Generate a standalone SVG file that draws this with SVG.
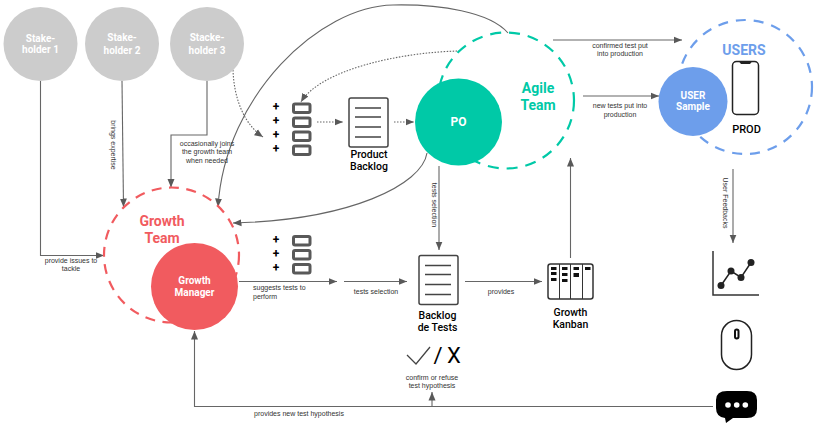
<svg xmlns="http://www.w3.org/2000/svg" width="824" height="428" viewBox="0 0 824 428">
<style>
text{font-family:Roboto,"Liberation Sans",sans-serif;text-anchor:middle}
.w{fill:#fff;font-weight:700;font-size:10px}
.l{fill:#333;font-size:7px;font-family:"Liberation Sans",Arial,sans-serif}
.n{fill:#000;font-weight:500;font-size:10.5px}
.t{font-weight:700;font-size:14px}
.c{fill:none;stroke:#666;stroke-width:1.1}
.d{fill:none;stroke:#666;stroke-width:1.1;stroke-dasharray:1.5 1.5}
.s{fill:#ccc}
.ic{fill:none;stroke:#595959;stroke-width:3}
.k{fill:#000;font-size:12px;font-weight:700}
</style>
<defs>
<marker id="a" markerUnits="userSpaceOnUse" markerWidth="9" markerHeight="8" refX="8.5" refY="4" orient="auto"><path d="M0,0.5L8.5,4L0,7.5z" fill="#595959"/></marker>
</defs>
<g id="connectors">
<path class="c" marker-end="url(#a)" d="M40.500,81V255.500H104"/>
<path class="c" marker-end="url(#a)" d="M122,81L123.500,207"/>
<path class="c" marker-end="url(#a)" d="M207,81V135H171V187.500"/>
<path class="d" marker-end="url(#a)" d="M233,70C234,100 245,125 263,137"/>
<path class="c" marker-end="url(#a)" d="M508,33C490,12 440,4 393,5C320,6 225,95 218,207"/>
<path class="c" marker-end="url(#a)" d="M427,153C422,185 350,220 233,223"/>
<path class="d" marker-end="url(#a)" d="M460,51C400,52 320,70 301,102"/>
<path class="d" marker-end="url(#a)" d="M317,122H343"/>
<path class="d" marker-end="url(#a)" d="M394,122H414"/>
<path class="c" marker-end="url(#a)" d="M439,166V250"/>
<path class="c" marker-end="url(#a)" d="M239,281.500H337"/>
<path class="c" marker-end="url(#a)" d="M344,281.500H407"/>
<path class="c" marker-end="url(#a)" d="M465,281.500H542"/>
<path class="c" marker-end="url(#a)" d="M570.500,258V158"/>
<path class="c" marker-end="url(#a)" d="M553,40H682"/>
<path class="c" marker-end="url(#a)" d="M583,96H659"/>
<path class="c" marker-end="url(#a)" d="M733,169V243"/>
<path class="c" marker-end="url(#a)" d="M713,406.500H194.500V331"/>
<path class="c" marker-end="url(#a)" d="M432,406.500V392"/>
</g>
<g id="labels">
<text class="l" transform="translate(113,145) rotate(90)" y="2.500">brings expertise</text>
<text class="l" transform="translate(434,205) rotate(90)" y="2.500">tests selection</text>
<text class="l" transform="translate(725,203) rotate(90)" y="2.500">User Feedbacks</text>
<text class="l" x="207" y="146">occasionally joins</text>
<text class="l" x="207" y="154">the growth team</text>
<text class="l" x="207" y="163">when needed</text>
<text class="l" x="71" y="263">provide issues to</text>
<text class="l" x="71" y="271">tackle</text>
<text class="l" x="253" y="290" style="text-anchor:start">suggests tests to</text>
<text class="l" x="253" y="299" style="text-anchor:start">perform</text>
<text class="l" x="376" y="294">tests selection</text>
<text class="l" x="501" y="294">provides</text>
<text class="l" x="620" y="48">confirmed test put</text>
<text class="l" x="620" y="56">into production</text>
<text class="l" x="620" y="108">new tests put into</text>
<text class="l" x="620" y="117">production</text>
<text class="l" x="432" y="380">confirm or refuse</text>
<text class="l" x="432" y="388">test hypothesis</text>
<text class="l" x="299" y="416">provides new test hypothesis</text>
</g>
<g id="stakeholder1"><circle class="s" cx="40.500" cy="44" r="37"/><text class="w" x="40.500" y="42">Stake-</text><text class="w" x="40.500" y="53">holder 1</text></g>
<g id="stakeholder2"><circle class="s" cx="122" cy="44" r="37"/><text class="w" x="122" y="41">Stake-</text><text class="w" x="122" y="54">holder 2</text></g>
<g id="stakeholder3"><circle class="s" cx="207" cy="44" r="37"/><text class="w" x="207" y="41">Stacke-</text><text class="w" x="207" y="54">holder 3</text></g>
<g id="growth-team">
<circle cx="171.500" cy="255" r="67.500" fill="none" stroke="#f15b5f" stroke-width="2.200" stroke-dasharray="10 7.500"/>
<text class="t" x="162" y="226" fill="#f15b5f">Growth</text><text class="t" x="162" y="243" fill="#f15b5f">Team</text>
</g>
<g id="growth-manager"><circle cx="194.500" cy="286.500" r="43.500" fill="#f15b5f"/><text class="w" x="194.500" y="284">Growth</text><text class="w" x="194.500" y="296">Manager</text></g>
<g id="agile-team">
<circle cx="506" cy="100.500" r="68" fill="none" stroke="#00c9a7" stroke-width="2.200" stroke-dasharray="11 8"/>
<text class="t" x="538" y="93" fill="#00c9a7">Agile</text><text class="t" x="538" y="110" fill="#00c9a7">Team</text>
</g>
<g id="po"><circle cx="458.500" cy="122" r="43.500" fill="#00c9a7"/><text x="458.500" y="126" fill="#fff" font-weight="700" font-size="12">PO</text></g>
<g id="users">
<circle cx="745" cy="87" r="67" fill="none" stroke="#6d9eeb" stroke-width="2.200" stroke-dasharray="10 8"/>
<text class="t" x="744" y="55" fill="#6d9eeb">USERS</text>
</g>
<g id="user-sample"><circle cx="693" cy="101.500" r="34.500" fill="#6d9eeb"/><text class="w" x="693" y="99">USER</text><text class="w" x="693" y="110">Sample</text></g>
<g id="prod">
<rect x="732.500" y="61.500" width="26" height="53" rx="4" fill="#fff" stroke="#222" stroke-width="1.500"/>
<path d="M739,61.500H752L750,64H741z" fill="#222"/>
<text class="n" x="746.500" y="133" style="font-size:11px">PROD</text>
</g>
<g id="product-list">
<text class="k" x="276" y="111">+</text><text class="k" x="276" y="125">+</text><text class="k" x="276" y="139">+</text><text class="k" x="276" y="153">+</text>
<rect class="ic" x="293.500" y="104" width="16.500" height="8.500" rx="1.500"/>
<rect class="ic" x="293.500" y="118" width="16.500" height="8.500" rx="1.500"/>
<rect class="ic" x="293.500" y="132" width="16.500" height="8.500" rx="1.500"/>
<rect class="ic" x="293.500" y="146" width="16.500" height="8.500" rx="1.500"/>
</g>
<g id="product-backlog">
<rect x="349" y="98" width="39" height="49" rx="2" fill="#fff" stroke="#444" stroke-width="1.500"/>
<path d="M355,108H381M355,117H381M355,127H381M355,137H381" stroke="#444" stroke-width="1.300"/>
<text class="n" x="369" y="158">Product</text><text class="n" x="369" y="170">Backlog</text>
</g>
<g id="tests-list">
<text class="k" x="276" y="244">+</text><text class="k" x="276" y="258">+</text><text class="k" x="276" y="272">+</text>
<rect class="ic" x="293.500" y="236.500" width="16.500" height="8.500" rx="1.500"/>
<rect class="ic" x="293.500" y="250.500" width="16.500" height="8.500" rx="1.500"/>
<rect class="ic" x="293.500" y="264.500" width="16.500" height="8.500" rx="1.500"/>
</g>
<g id="backlog-tests">
<rect x="419" y="255.500" width="39" height="49" rx="2" fill="#fff" stroke="#444" stroke-width="1.500"/>
<path d="M425,265.500H451M425,274.500H451M425,284.500H451M425,294.500H451" stroke="#444" stroke-width="1.300"/>
<text class="n" x="437.500" y="319">Backlog</text><text class="n" x="437.500" y="331">de Tests</text>
</g>
<g id="confirm">
<path d="M407,355L416,364L430,347" fill="none" stroke="#444" stroke-width="1.300"/>
<text x="438" y="363" fill="#000" font-size="22">/</text>
<text x="454" y="363" fill="#000" font-size="22">X</text>
</g>
<g id="growth-kanban">
<rect x="548" y="264" width="45" height="35" rx="2.500" fill="#fff" stroke="#333" stroke-width="1.500"/>
<path d="M559.500,264V299M570.500,264V299M582.500,264V299" stroke="#333" stroke-width="1"/>
<path d="M551,267h5.500v3h-5.500zM551,272h5.500v3h-5.500zM551,278h5.500v3h-5.500zM562,267h5.500v3h-5.500zM562,273h5.500v3h-5.500zM562,279h5.500v3h-5.500zM573.500,267h5.500v3h-5.500zM573.500,273h5.500v4h-5.500zM585,267h5.500v3h-5.500z" fill="#111"/>
<text class="n" x="570.500" y="316">Growth</text><text class="n" x="570.500" y="328">Kanban</text>
</g>
<g id="chart">
<path d="M713,251V295H759" fill="none" stroke="#333" stroke-width="1.500"/>
<path d="M721,285.500L731,271L741,277.500L751,262.500" fill="none" stroke="#222" stroke-width="1.500"/>
<circle cx="721" cy="285.500" r="3.500" fill="#222"/><circle cx="731" cy="271" r="3.500" fill="#222"/><circle cx="741" cy="277.500" r="3.500" fill="#222"/><circle cx="751" cy="262.500" r="3.500" fill="#222"/>
</g>
<g id="mouse">
<rect x="721.500" y="320.500" width="30" height="49" rx="15" fill="none" stroke="#222" stroke-width="1.500"/>
<rect x="735" y="329.500" width="3.500" height="9" rx="1.700" fill="none" stroke="#111" stroke-width="2"/>
</g>
<g id="chat">
<path d="M727,391H747Q757,391 757,400V409Q757,418 747,418H733L726,423L725,418Q716,417 716,408V400Q716,391 727,391z" fill="#000"/>
<circle cx="728" cy="405" r="2.800" fill="#fff"/><circle cx="736.700" cy="405" r="2.800" fill="#fff"/><circle cx="745.300" cy="405" r="2.800" fill="#fff"/>
</g>
</svg>
